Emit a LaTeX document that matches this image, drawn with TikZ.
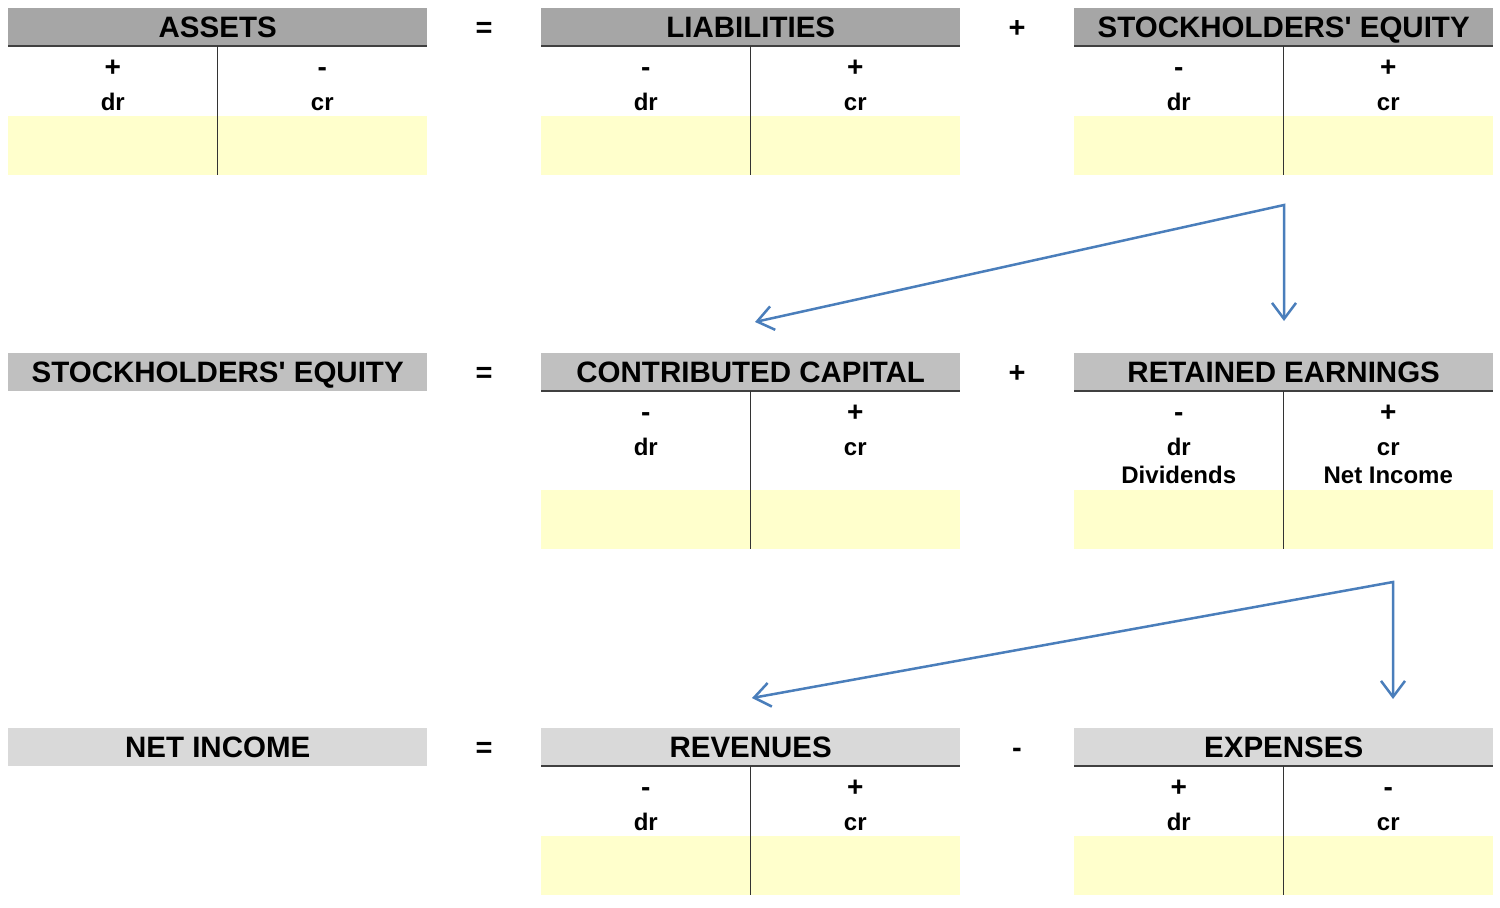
\documentclass[tikz,border=0pt]{standalone}
\usepackage{fontspec}
\setmainfont{Liberation Sans}
\usetikzlibrary{arrows.meta}
\definecolor{hdrA}{HTML}{A6A6A6}
\definecolor{hdrB}{HTML}{C0C0C0}
\definecolor{hdrC}{HTML}{D9D9D9}
\definecolor{cellY}{HTML}{FFFFCC}
\definecolor{arrowblue}{HTML}{4A7EBB}
\tikzset{
  hdr/.style={minimum width=419pt, minimum height=38pt, inner sep=0pt, anchor=north west,
    text height=21pt, text depth=0pt, font=\fontsize{29.5}{29.5}\selectfont\bfseries},
  sub/.style={font=\fontsize{24}{24}\selectfont\bfseries, inner sep=0pt, anchor=base},
  sgn/.style={font=\fontsize{28}{28}\selectfont\bfseries, inner sep=0pt, anchor=base},
  op/.style={font=\fontsize{29}{29}\selectfont\bfseries, inner sep=0pt, anchor=base},
  uline/.style={draw=black!75, line width=2pt},
  vline/.style={draw=black!80, line width=1pt},
  flow/.style={draw=arrowblue, line width=2.5pt, line join=miter,
    {Straight Barb[length=16pt,width=24pt]}-{Straight Barb[length=16pt,width=24pt]}},
}
% #1 name, #2 x, #3 y, #4 fill, #5 title, #6 left sign, #7 right sign, #8 yellow offset
\newcommand\taccount[8]{%
  \fill[cellY] (#2,#3+#8) rectangle (#2+419,#3+#8+59);
  \node[hdr, fill=#4] (#1) at (#2,#3) {#5};
  \draw[uline] (#1.south west) -- (#1.south east);
  \coordinate (#1-vt) at (#2+209.5,#3+38);
  \coordinate (#1-vb) at (#2+209.5,#3+#8+59);
  \draw[vline] (#1-vt) -- (#1-vb);
  \node[sgn] (#1-ls) at (#2+104.75,#3+68) {#6};
  \node[sgn] (#1-rs) at (#2+314.25,#3+68) {#7};
  \node[sub] (#1-dr) at (#2+104.75,#3+102) {dr};
  \node[sub] (#1-cr) at (#2+314.25,#3+102) {cr};
}
\begin{document}
\begin{tikzpicture}[x=1pt,y=-1pt]
\useasboundingbox (0,0) rectangle (1500,908);
% row 1
\taccount{assets}{8}{8}{hdrA}{ASSETS}{+}{-}{108}
\taccount{liab}{541}{8}{hdrA}{LIABILITIES}{-}{+}{108}
\taccount{se}{1074}{8}{hdrA}{STOCKHOLDERS\textquotesingle\ EQUITY}{-}{+}{108}
\node[op] (eq1) at (484,37) {=};
\node[op] (pl1) at (1017,37) {+};
% row 2
\node[hdr, fill=hdrB] (se2) at (8,353) {STOCKHOLDERS\textquotesingle\ EQUITY};
\taccount{cc}{541}{353}{hdrB}{CONTRIBUTED CAPITAL}{-}{+}{137}
\taccount{re}{1074}{353}{hdrB}{RETAINED EARNINGS}{-}{+}{137}
\node[sub] (div) at (1178.75,483) {Dividends};
\node[sub] (ni) at (1388.25,483) {Net Income};
\node[op] (eq2) at (484,382) {=};
\node[op] (pl2) at (1017,382) {+};
% row 3
\node[hdr, fill=hdrC] (ni3) at (8,728) {NET INCOME};
\taccount{rev}{541}{728}{hdrC}{REVENUES}{-}{+}{108}
\taccount{exp}{1074}{728}{hdrC}{EXPENSES}{+}{-}{108}
\node[op] (eq3) at (484,757) {=};
\node[op] (mi3) at (1017,757) {-};
% arrows
\coordinate (sebend) at (1284,205);
\coordinate (ccin) at (755,322);
\coordinate (rein) at (1284,321);
\draw[flow] (ccin) -- (sebend) -- (rein);
\coordinate (rebend) at (1393,582);
\coordinate (revin) at (752,698);
\coordinate (expin) at (1393,699);
\draw[flow] (revin) -- (rebend) -- (expin);
\end{tikzpicture}
\end{document}
